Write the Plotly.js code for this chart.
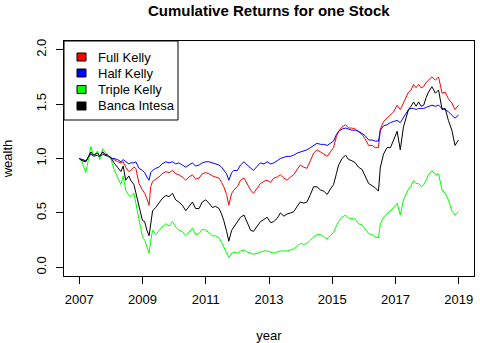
<!DOCTYPE html>
<html>
<head>
<meta charset="utf-8">
<script src="https://cdn.plot.ly/plotly-3.0.1.min.js"></script>
<style>html,body{margin:0;padding:0;background:#fff;}#chart{width:480px;height:343px;}</style>
</head>
<body>
<div id="chart"></div>
<script>
// decimal year
const years = [2007.00,2007.09,2007.21,2007.27,2007.37,2007.46,2007.58,2007.65,2007.74,2007.81,2007.90,
2008.00,2008.10,2008.21,2008.32,2008.39,2008.47,2008.57,2008.63,2008.73,2008.79,2008.89,
2009.00,2009.07,2009.14,2009.21,2009.26,2009.32,2009.42,2009.52,2009.62,2009.74,2009.84,2009.95,
2010.05,2010.15,2010.26,2010.37,2010.47,2010.58,2010.68,2010.79,2010.89,
2011.00,2011.10,2011.21,2011.31,2011.42,2011.50,2011.57,2011.66,2011.73,2011.82,2011.89,
2012.00,2012.10,2012.21,2012.31,2012.42,2012.51,2012.63,2012.73,2012.84,2012.94,
2013.05,2013.15,2013.26,2013.36,2013.47,2013.57,2013.68,2013.78,2013.89,2013.99,
2014.10,2014.20,2014.31,2014.41,2014.52,2014.63,2014.73,2014.84,2014.94,
2015.04,2015.13,2015.20,2015.31,2015.42,2015.52,2015.62,2015.73,2015.83,2015.94,
2016.04,2016.15,2016.26,2016.36,2016.46,2016.52,2016.62,2016.73,2016.84,2016.94,
2017.05,2017.15,2017.25,2017.34,2017.41,2017.49,2017.57,2017.65,2017.73,2017.81,2017.89,2017.97,
2018.04,2018.15,2018.26,2018.36,2018.47,2018.57,2018.67,2018.78,2018.88,2018.99];

const fullKelly = [1.00,0.99,0.975,1.00,1.06,1.03,1.05,1.02,1.06,1.04,1.03,
1.01,0.99,0.97,0.96,0.97,0.92,0.88,0.89,0.92,0.91,0.77,
0.71,0.68,0.63,0.57,0.74,0.79,0.81,0.83,0.86,0.88,0.87,0.89,
0.86,0.85,0.83,0.80,0.83,0.85,0.81,0.82,0.86,
0.87,0.86,0.84,0.83,0.82,0.78,0.74,0.67,0.57,0.68,0.71,
0.74,0.80,0.82,0.77,0.71,0.68,0.73,0.77,0.79,0.80,
0.78,0.82,0.83,0.85,0.82,0.80,0.83,0.85,0.90,0.94,
0.92,0.91,0.98,1.05,1.08,1.06,1.04,1.02,1.06,
1.10,1.20,1.25,1.29,1.31,1.28,1.28,1.27,1.25,1.22,
1.18,1.12,1.12,1.10,1.10,1.27,1.34,1.37,1.40,1.43,
1.49,1.45,1.51,1.57,1.61,1.63,1.68,1.65,1.68,1.65,1.66,1.70,
1.72,1.75,1.72,1.75,1.60,1.61,1.55,1.51,1.45,1.49];

const halfKelly = [1.00,0.99,0.98,1.00,1.04,1.02,1.03,1.01,1.04,1.03,1.02,
1.00,1.00,0.99,0.97,0.99,0.97,0.95,0.96,0.96,0.97,0.91,
0.89,0.87,0.83,0.80,0.87,0.89,0.91,0.92,0.95,0.97,0.96,0.97,
0.95,0.96,0.94,0.92,0.94,0.96,0.93,0.94,0.96,
0.97,0.97,0.96,0.95,0.94,0.92,0.89,0.86,0.80,0.87,0.89,
0.89,0.94,0.97,0.94,0.91,0.89,0.93,0.96,0.95,0.97,
0.95,0.96,0.98,1.00,1.01,1.02,1.02,1.03,1.05,1.06,
1.07,1.08,1.10,1.12,1.14,1.13,1.13,1.12,1.14,
1.16,1.22,1.25,1.27,1.28,1.27,1.26,1.26,1.25,1.23,
1.21,1.17,1.17,1.16,1.16,1.26,1.30,1.31,1.33,1.34,
1.35,1.33,1.38,1.42,1.45,1.46,1.46,1.45,1.46,1.46,1.46,1.47,
1.48,1.49,1.48,1.49,1.46,1.45,1.43,1.40,1.37,1.40];

const tripleKelly = [1.00,0.97,0.87,0.95,1.11,1.02,1.07,0.99,1.09,1.06,1.03,
1.00,0.90,0.83,0.76,0.84,0.71,0.66,0.65,0.68,0.59,0.46,
0.28,0.25,0.19,0.13,0.24,0.34,0.30,0.34,0.37,0.40,0.38,0.42,
0.37,0.34,0.33,0.29,0.32,0.36,0.30,0.31,0.35,
0.34,0.32,0.29,0.29,0.27,0.23,0.19,0.13,0.09,0.13,0.14,
0.13,0.15,0.16,0.14,0.13,0.12,0.13,0.14,0.15,0.15,
0.14,0.13,0.14,0.15,0.15,0.15,0.16,0.17,0.19,0.22,
0.21,0.22,0.25,0.28,0.30,0.30,0.28,0.26,0.29,
0.32,0.38,0.42,0.46,0.48,0.45,0.45,0.44,0.40,0.39,
0.35,0.31,0.30,0.28,0.27,0.40,0.46,0.49,0.52,0.55,
0.59,0.48,0.62,0.68,0.72,0.75,0.80,0.77,0.77,0.74,0.76,0.80,
0.85,0.89,0.85,0.86,0.71,0.68,0.62,0.52,0.48,0.51];

const bancaIntesa = [1.00,0.98,0.97,1.00,1.06,1.03,1.05,1.02,1.06,1.04,1.03,
1.01,0.96,0.92,0.88,0.93,0.80,0.84,0.80,0.76,0.69,0.55,
0.43,0.42,0.34,0.29,0.42,0.52,0.55,0.59,0.63,0.66,0.65,0.68,
0.62,0.60,0.57,0.52,0.56,0.60,0.54,0.54,0.60,
0.62,0.59,0.55,0.56,0.54,0.49,0.43,0.33,0.24,0.34,0.37,
0.42,0.46,0.48,0.41,0.34,0.33,0.38,0.42,0.44,0.46,
0.41,0.42,0.45,0.50,0.47,0.49,0.50,0.51,0.56,0.60,
0.59,0.60,0.67,0.74,0.74,0.71,0.70,0.67,0.72,
0.76,0.86,0.94,1.00,1.03,0.99,0.98,0.96,0.92,0.90,
0.84,0.77,0.75,0.73,0.70,0.92,1.04,1.10,1.10,1.17,
1.25,1.08,1.29,1.38,1.45,1.48,1.52,1.48,1.52,1.48,1.49,1.56,
1.61,1.66,1.60,1.63,1.45,1.46,1.35,1.26,1.12,1.17];

const seriesNames = ["Full Kelly","Half Kelly","Triple Kelly","Banca Intesa"];
const seriesColors = ["#ff0000","#0000ff","#00ff00","#000000"];
const seriesValues = [fullKelly, halfKelly, tripleKelly, bancaIntesa];
const xTicks = [2007,2009,2011,2013,2015,2017,2019];
const yTicks = [0,0.5,1,1.5,2];

const W = 480, H = 343;
const M = {l:64, r:6, t:41, b:67};
const pw = W - M.l - M.r, ph = H - M.t - M.b;
const px = x => (x - M.l) / pw;
const py = y => (H - M.b - y) / ph;

const traces = seriesValues.map((v, i) => ({
  x: years, y: v, type: 'scatter', mode: 'lines',
  line: {color: seriesColors[i], width: 1},
  name: seriesNames[i], hoverinfo: 'skip'
}));

const font = "Liberation Sans, Arial, Helvetica, sans-serif";
const shapes = [{type:'rect', xref:'paper', yref:'paper', x0:px(64), x1:px(178), y0:py(120), y1:py(41),
  line:{color:'#000', width:1}, fillcolor:'rgba(255,255,255,0)'}];
const annotations = [];
const rowY = [57, 73, 89.5, 106];
seriesNames.forEach((n, i) => {
  shapes.push({type:'rect', xref:'paper', yref:'paper', x0:px(77), x1:px(86), y0:py(rowY[i]+4), y1:py(rowY[i]-4),
    line:{color:'#000', width:1}, fillcolor: seriesColors[i]});
  annotations.push({xref:'paper', yref:'paper', x:px(96), y:py(rowY[i]), xanchor:'left', yanchor:'middle',
    text:n, showarrow:false, font:{family:font, size:13, color:'#000'}});
});

const layout = {
  width: W, height: H,
  margin: M,
  paper_bgcolor:'#fff', plot_bgcolor:'#fff',
  showlegend:false,
  font:{family:font, size:13, color:'#000'},
  title:{text:'<b>Cumulative Returns for one Stock</b>', x:0.56, xanchor:'center', y:0.97, yanchor:'middle', font:{family:font, size:15, color:'#000'}},
  xaxis:{range:[2006.52, 2019.48], tickvals:xTicks, ticktext:xTicks.map(String), ticks:'outside', ticklen:7, tickcolor:'#000',
    ticklabelstandoff:4,
    showgrid:false, zeroline:false, showline:true, mirror:true, linecolor:'#000', linewidth:1,
    tickfont:{family:font, size:13}, title:{text:'year', font:{family:font, size:13}, standoff:26}},
  yaxis:{range:[-0.08, 2.08], tickvals:yTicks, ticktext:yTicks.map(v=>v.toFixed(1)), ticks:'outside', ticklen:7, tickcolor:'#000',
    tickangle:-90, ticklabelstandoff:5, showgrid:false, zeroline:false, showline:true, mirror:true, linecolor:'#000', linewidth:1,
    tickfont:{family:font, size:13}, title:{text:'wealth', font:{family:font, size:13}, standoff:18}},
  shapes, annotations
};

Plotly.newPlot('chart', traces, layout, {staticPlot:true, displayModeBar:false});
</script>
</body>
</html>
